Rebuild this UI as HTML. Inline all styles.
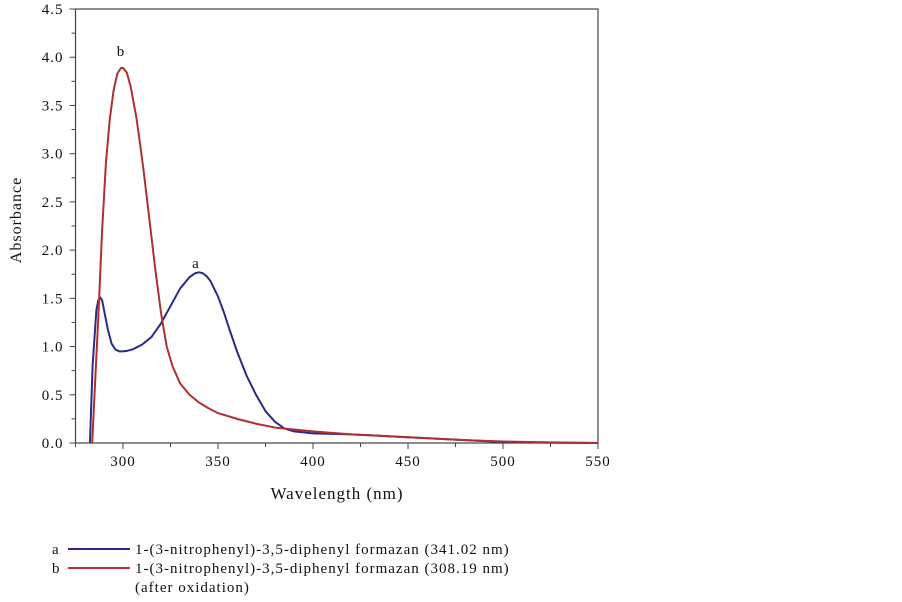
<!DOCTYPE html>
<html><head><meta charset="utf-8"><style>
body{margin:0;background:#fff;width:902px;height:597px;overflow:hidden}
text{font-family:"Liberation Serif",serif;fill:#111;letter-spacing:1px}
</style></head><body>
<svg id="chart" width="902" height="597" viewBox="0 0 902 597" xmlns="http://www.w3.org/2000/svg"></svg>
<script>
const xTicks=[300,350,400,450,500,550];
const yTicks=[0,0.5,1,1.5,2,2.5,3,3.5,4,4.5];
const wlA=[282.6,284,286,287,288,289,290,292,294,296,298,300,302,305,310,315,320,325,330,335,338,340,342,344,346,350,353,356,360,365,370,375,380,385,390,400,420,450,480,500,530,550];
const absA=[0,0.8,1.38,1.48,1.51,1.48,1.38,1.18,1.03,0.97,0.95,0.95,0.955,0.97,1.02,1.1,1.24,1.42,1.6,1.72,1.76,1.77,1.76,1.73,1.68,1.52,1.36,1.18,0.95,0.7,0.5,0.33,0.22,0.15,0.12,0.1,0.09,0.06,0.03,0.01,0.003,0];
const wlB=[283.8,285,287,289,291,293,295,297,299,300,302,304,307,309,311,314,317,320,323,326,330,335,340,345,350,360,370,380,390,400,420,450,480,500,530,550];
const absB=[0,0.5,1.3,2.2,2.9,3.35,3.65,3.83,3.89,3.89,3.84,3.7,3.38,3.1,2.8,2.3,1.8,1.35,1.0,0.8,0.62,0.5,0.42,0.36,0.31,0.25,0.2,0.16,0.14,0.12,0.09,0.06,0.03,0.015,0.005,0];
const svg=document.getElementById('chart');
const NS='http://www.w3.org/2000/svg';
const X0=75.5,Y0=443;
function sx(v){return X0+(v-275)*1.9;}
function sy(v){return Y0-v*96.44;}
function mk(t,a){const e=document.createElementNS(NS,t);for(const k in a)e.setAttribute(k,a[k]);svg.appendChild(e);return e;}
let f=mk('rect',{x:sx(275),y:sy(4.5),width:sx(550)-sx(275),height:sy(0)-sy(4.5),fill:'none',stroke:'#444','stroke-width':1.2});


for(let v=275;v<=550;v+=25){const major=xTicks.includes(v);let t=mk('line',{x1:sx(v),x2:sx(v),y1:Y0,y2:Y0+(major?6:4),stroke:'#444'});

}
xTicks.forEach(v=>{let t=mk('text',{x:sx(v),y:Y0+23,'text-anchor':'middle','font-size':15});t.textContent=v;

});
for(let v=0;v<=4.5001;v+=0.25){const major=Math.abs(v*2-Math.round(v*2))<1e-6;let t=mk('line',{x1:X0-(major?6:4),x2:X0,y1:sy(v),y2:sy(v),stroke:'#444'});

}
yTicks.forEach(v=>{let t=mk('text',{x:X0-12,y:sy(v)+5,'text-anchor':'end','font-size':15});t.textContent=v.toFixed(1);

});
let yl=mk('text',{x:21,y:220,'text-anchor':'middle','font-size':16,transform:'rotate(-90 21 220)'});yl.textContent='Absorbance';


let xl=mk('text',{x:337,y:499,'text-anchor':'middle','font-size':17,'letter-spacing':'1.5'});xl.textContent='Wavelength (nm)';


function line(w,a,c,n){let p=mk('polyline',{points:w.map((v,i)=>sx(v)+','+sy(a[i])).join(' '),fill:'none',stroke:c,'stroke-width':2,'stroke-linejoin':'round'});

}
line(wlA,absA,'#2a2a8a','series-a-line');
line(wlB,absB,'#b03030','series-b-line');
let la=mk('text',{x:196,y:268,'text-anchor':'middle','font-size':15});la.textContent='a';


let lb=mk('text',{x:121,y:56,'text-anchor':'middle','font-size':15});lb.textContent='b';


const leg=[['a','#2a2a8a','1-(3-nitrophenyl)-3,5-diphenyl formazan (341.02 nm)',554],['b','#c03030','1-(3-nitrophenyl)-3,5-diphenyl formazan (308.19 nm)',573]];
leg.forEach(l=>{let k=mk('text',{x:52,y:l[3],'font-size':15});k.textContent=l[0];


let s=mk('line',{x1:68,x2:130,y1:l[3]-5,y2:l[3]-5,stroke:l[1],'stroke-width':2});


let t=mk('text',{x:135,y:l[3],'font-size':15});t.textContent=l[2];

});
let ao=mk('text',{x:135,y:592,'font-size':15});ao.textContent='(after oxidation)';


</script>
</body></html>
